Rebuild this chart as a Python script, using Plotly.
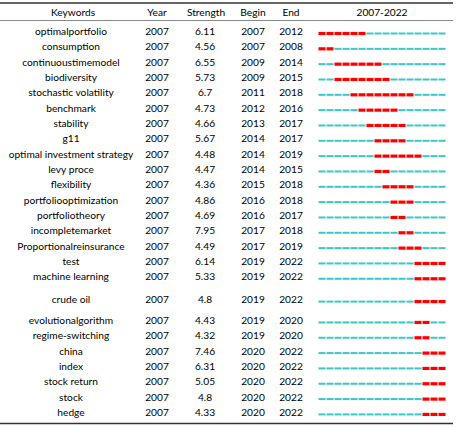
import plotly.graph_objects as go

# keyword burst table
keywords = ["optimalportfolio", "consumption", "continuoustimemodel", "biodiversity",
            "stochastic volatility", "benchmark", "stability", "g11",
            "optimal investment strategy", "levy proce", "flexibility",
            "portfoliooptimization", "portfoliotheory", "incompletemarket",
            "Proportionalreinsurance", "test", "machine learning", "crude oil",
            "evolutionalgorithm", "regime-switching", "china", "index",
            "stock return", "stock", "hedge"]
year = [2007] * 25
strength = ["6.11", "4.56", "6.55", "5.73", "6.7", "4.73", "4.66", "5.67", "4.48",
            "4.47", "4.36", "4.86", "4.69", "7.95", "4.49", "6.14", "5.33", "4.8",
            "4.43", "4.32", "7.46", "6.31", "5.05", "4.8", "4.33"]
begin = [2007, 2007, 2009, 2009, 2011, 2012, 2013, 2014, 2014, 2014, 2015, 2016,
         2016, 2017, 2017, 2019, 2019, 2019, 2019, 2019, 2020, 2020, 2020, 2020, 2020]
end = [2012, 2008, 2014, 2015, 2018, 2016, 2017, 2017, 2019, 2015, 2018, 2018,
       2017, 2018, 2019, 2022, 2022, 2022, 2020, 2020, 2022, 2022, 2022, 2022, 2022]
first_year, last_year = 2007, 2022

W, H = 456, 427
FONT = "Lato, Calibri, sans-serif"

# row positions (pixels from top); crude oil row sits in a taller cell
step = 15.33
extra = {"crude oil": 7.5, "evolutionalgorithm": 5.5}
rows = []
y = 32.5
for kw in keywords:
    y += extra.get(kw, 0)
    rows.append(y)
    y += step

fig = go.Figure()

# table text
cols = [(71, keywords), (157, [str(v) for v in year]), (205, strength),
        (253, [str(v) for v in begin]), (291, [str(v) for v in end])]
for cx, vals in cols:
    fig.add_trace(go.Scatter(x=[cx] * len(vals), y=rows, mode="text", text=vals,
                             textfont=dict(family=FONT, size=10.2, color="black"),
                             hoverinfo="skip", showlegend=False))

headers = ["Keywords", "Year", "Strength", "Begin", "End", "%d-%d" % (first_year, last_year)]
fig.add_trace(go.Scatter(x=[73, 157, 206, 253, 291, 382], y=[13.5] * 6, mode="text",
                         text=headers, textfont=dict(family=FONT, size=10.2, color="black"),
                         hoverinfo="skip", showlegend=False))

# burst timeline segments
cx_, cy_, rx_, ry_ = [], [], [], []
for r, b, e in zip(rows, begin, end):
    for yr in range(first_year, last_year + 1):
        seg_x = [yr + 0.06, yr + 0.94, None]
        seg_y = [r + 1, r + 1, None]
        if b <= yr <= e:
            rx_ += seg_x
            ry_ += seg_y
        else:
            cx_ += seg_x
            cy_ += seg_y

fig.add_trace(go.Scatter(x=cx_, y=cy_, xaxis="x2", mode="lines",
                         line=dict(color="#3cc6c6", width=2), hoverinfo="skip",
                         showlegend=False))
fig.add_trace(go.Scatter(x=rx_, y=ry_, xaxis="x2", mode="lines",
                         line=dict(color="#ff0000", width=3.2), hoverinfo="skip",
                         showlegend=False))

# table rules
fig.add_shape(type="line", x0=0, x1=453, y0=3, y1=3, line=dict(color="#333333", width=1.6))
fig.add_shape(type="line", x0=0, x1=453, y0=20.5, y1=20.5, line=dict(color="#888888", width=1))
fig.add_shape(type="line", x0=0, x1=453, y0=423.5, y1=423.5, line=dict(color="#333333", width=1.6))

fig.update_layout(
    width=W, height=H,
    margin=dict(l=0, r=0, t=0, b=0),
    paper_bgcolor="white", plot_bgcolor="rgba(0,0,0,0)",
    xaxis=dict(range=[0, W], visible=False, fixedrange=True),
    xaxis2=dict(range=[first_year, last_year + 1], domain=[318 / W, 446 / W],
                anchor="y", visible=False, fixedrange=True),
    yaxis=dict(range=[H, 0], visible=False, fixedrange=True),
)

# drop the browser's default 8px body margin so the figure sits at the page corner
fig.write_html("out.html", config={"displayModeBar": False},
               post_script="document.body.style.margin='0';")
